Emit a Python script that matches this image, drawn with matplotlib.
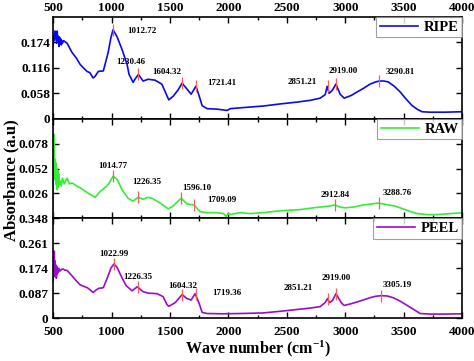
import numpy as np
import matplotlib
matplotlib.use("Agg")
from matplotlib import pyplot as plt
from matplotlib.ticker import MultipleLocator

plt.rcParams["font.family"] = ["Liberation Serif", "DejaVu Serif"]
plt.rcParams["font.weight"] = "bold"
plt.rcParams["mathtext.fontset"] = "custom"
plt.rcParams["mathtext.rm"] = "Liberation Serif:bold"
plt.rcParams["mathtext.it"] = "Liberation Serif:bold"
plt.rcParams["mathtext.bf"] = "Liberation Serif:bold"
plt.rcParams["mathtext.default"] = "rm"

# ---- spectra (wavenumber, absorbance) ----
ripe_wn = [500, 505, 510, 515, 520, 525, 530, 535, 540, 545, 550, 555, 560, 565, 570, 575,
           580, 590, 600, 620, 662, 700, 731, 760, 790, 815, 842, 860, 887, 930, 971, 995,
           1013, 1047, 1090, 1133, 1150, 1185, 1200, 1230, 1270, 1313, 1372, 1430, 1475,
           1490, 1530, 1570, 1604, 1645, 1681, 1722, 1750, 1775, 1818, 1900, 1990, 2015,
           2150, 2297, 2450, 2588, 2700, 2785, 2828, 2845, 2862, 2890, 2920, 2956, 2990,
           3050, 3100, 3160, 3212, 3260, 3290, 3330, 3367, 3420, 3470, 3520, 3572, 3620,
           3657, 3727, 3850, 4000]
ripe_val = [0.165, 0.19, 0.178, 0.2, 0.183, 0.196, 0.172, 0.2, 0.178, 0.188, 0.165, 0.186,
            0.17, 0.182, 0.168, 0.178, 0.172, 0.178, 0.176, 0.172, 0.151, 0.138, 0.124, 0.116,
            0.108, 0.105, 0.093, 0.097, 0.108, 0.109, 0.151, 0.185, 0.203, 0.187, 0.158,
            0.124, 0.101, 0.083, 0.09, 0.101, 0.086, 0.09, 0.088, 0.079, 0.052, 0.043, 0.052,
            0.066, 0.081, 0.068, 0.056, 0.074, 0.052, 0.03, 0.023, 0.022, 0.019, 0.023, 0.026,
            0.029, 0.034, 0.038, 0.042, 0.047, 0.055, 0.074, 0.058, 0.065, 0.079, 0.056, 0.047,
            0.053, 0.061, 0.07, 0.079, 0.084, 0.086, 0.086, 0.084, 0.074, 0.061, 0.045, 0.03,
            0.021, 0.016, 0.015, 0.015, 0.016]

raw_wn = [500, 503, 506, 510, 513, 516, 520, 524, 528, 532, 536, 540, 545, 550, 555, 560,
          570, 580, 595, 620, 640, 662, 700, 731, 780, 817, 860, 902, 962, 990, 1013, 1047,
          1090, 1142, 1185, 1228, 1270, 1310, 1347, 1416, 1485, 1527, 1560, 1596, 1647,
          1707, 1758, 1818, 1900, 1960, 1980, 2000, 2015, 2100, 2186, 2300, 2443, 2600,
          2725, 2870, 2913, 2950, 2998, 3080, 3152, 3220, 3281, 3330, 3420, 3495, 3560,
          3615, 3700, 3786, 3900, 4000]
raw_val = [0.002, 0.06, 0.088, 0.07, 0.045, 0.062, 0.04, 0.058, 0.035, 0.052, 0.03, 0.05,
           0.033, 0.046, 0.036, 0.039, 0.034, 0.042, 0.036, 0.042, 0.036, 0.037, 0.034, 0.032,
           0.028, 0.025, 0.022, 0.028, 0.034, 0.039, 0.044, 0.041, 0.03, 0.021, 0.018, 0.022,
           0.02, 0.022, 0.021, 0.016, 0.01, 0.013, 0.017, 0.021, 0.015, 0.014, 0.007, 0.006,
           0.006, 0.005, 0.002, 0.005, 0.004, 0.006, 0.005, 0.006, 0.008, 0.009, 0.011, 0.013,
           0.014, 0.012, 0.011, 0.012, 0.014, 0.015, 0.016, 0.015, 0.013, 0.01, 0.007, 0.005,
           0.004, 0.004, 0.005, 0.006]

peel_wn = [500, 503, 506, 510, 513, 516, 520, 524, 528, 532, 536, 540, 545, 550, 560, 570,
           585, 600, 620, 662, 700, 731, 760, 792, 815, 842, 865, 887, 930, 971, 995, 1020,
           1047, 1090, 1125, 1176, 1220, 1270, 1313, 1390, 1441, 1475, 1490, 1545, 1604,
           1645, 1681, 1715, 1750, 1775, 1818, 1950, 2100, 2297, 2450, 2588, 2700, 2785,
           2828, 2848, 2865, 2890, 2920, 2965, 2990, 3040, 3100, 3160, 3212, 3260, 3305,
           3360, 3410, 3470, 3530, 3590, 3640, 3730, 3850, 4000]
peel_val = [0.13, 0.2, 0.145, 0.234, 0.17, 0.2, 0.15, 0.186, 0.14, 0.18, 0.155, 0.175,
            0.16, 0.172, 0.165, 0.17, 0.172, 0.168, 0.167, 0.148, 0.13, 0.117, 0.112, 0.107,
            0.1, 0.09, 0.098, 0.104, 0.107, 0.148, 0.175, 0.189, 0.178, 0.141, 0.114, 0.096,
            0.11, 0.093, 0.088, 0.086, 0.076, 0.048, 0.042, 0.055, 0.083, 0.069, 0.064, 0.086,
            0.052, 0.021, 0.017, 0.016, 0.017, 0.019, 0.025, 0.031, 0.036, 0.041, 0.055, 0.069,
            0.055, 0.062, 0.086, 0.055, 0.045, 0.05, 0.057, 0.065, 0.072, 0.077, 0.079, 0.078,
            0.072, 0.06, 0.045, 0.03, 0.017, 0.015, 0.015, 0.016]

# ---- peak labels ----
ripe_peaks = [1012.72, 1230.46, 1604.32, 1721.41, 2851.21, 2919.00, 3290.81]
ripe_peak_val = [0.203, 0.101, 0.081, 0.074, 0.074, 0.079, 0.086]
ripe_text_xy = [(1261, 0.199), (1167, 0.129), (1475, 0.106), (1946, 0.081),
                (2630, 0.083), (2982, 0.108), (3470, 0.106)]

raw_peaks = [1014.77, 1226.35, 1596.10, 1709.09, 2912.84, 3288.76]
raw_peak_val = [0.044, 0.022, 0.021, 0.014, 0.014, 0.016]
raw_text_xy = [(1014, 0.055), (1304, 0.038), (1732, 0.032), (1946, 0.019),
               (2913, 0.024), (3443, 0.027)]

peel_peaks = [1022.99, 1226.35, 1604.32, 1719.36, 2851.21, 2919.00, 3305.19]
peel_peak_val = [0.189, 0.110, 0.083, 0.086, 0.069, 0.086, 0.079]
peel_text_xy = [(1022, 0.224), (1228, 0.144), (1612, 0.113), (1988, 0.089),
                (2597, 0.107), (2920, 0.141), (3443, 0.117)]

panels = [
    ("RIPE", "#0a0aee", ripe_wn, ripe_val, ripe_peaks, ripe_peak_val, ripe_text_xy,
     0.232, [0, 0.058, 0.116, 0.174], ["0", "0.058", "0.116", "0.174"]),
    ("RAW", "#33ee33", raw_wn, raw_val, raw_peaks, raw_peak_val, raw_text_xy,
     0.104, [0.026, 0.052, 0.078], ["0.026", "0.052", "0.078"]),
    ("PEEL", "#9a0ccc", peel_wn, peel_val, peel_peaks, peel_peak_val, peel_text_xy,
     0.348, [0, 0.087, 0.174, 0.261, 0.348], ["0", "0.087", "0.174", "0.261", "0.348"]),
]

fig = plt.figure(figsize=(4.74, 3.61), dpi=100)
left, width = 0.112, 0.863
bottoms = [0.671, 0.395, 0.118]
heights = [0.282, 0.276, 0.277]

axes = []
for i, (name, color, wn, val, pk, pkv, txy, ytop, yt, ytl) in enumerate(panels):
    ax = fig.add_axes([left, bottoms[i], width, heights[i]])
    ax.plot(wn, val, color=color, lw=1.2, label=name)
    ax.plot(pk, pkv, ls="none", marker="|", ms=9, mew=0.9, color="#ff5a5a")
    for p, (tx, ty) in zip(pk, txy):
        ax.text(tx, ty, f"{p:.2f}", fontsize=6.5, fontweight="bold",
                ha="center", va="center")
    ax.set_xlim(500, 4000)
    ax.set_ylim(0, ytop)
    ax.set_yticks(yt)
    ax.set_yticklabels(ytl, fontsize=9.5, fontweight="bold")
    ax.xaxis.set_major_locator(MultipleLocator(500))
    ax.xaxis.set_minor_locator(MultipleLocator(250))
    ax.tick_params(which="both", direction="in", top=True, right=True, width=1)
    ax.tick_params(which="major", length=4)
    ax.tick_params(which="minor", length=2.5)
    for s in ax.spines.values():
        s.set_linewidth(1.2)
    leg = ax.legend(loc="upper right", borderaxespad=0, fancybox=False,
                    edgecolor="#888888", handlelength=2.6, handletextpad=0.4,
                    borderpad=0.25, prop={"size": 10.5, "weight": "bold"})
    leg.get_frame().set_linewidth(0.8)
    axes.append(ax)

axes[0].tick_params(labeltop=True, labelbottom=False, pad=2)
for lab in axes[0].get_xticklabels():
    lab.set_fontsize(9.5)
    lab.set_fontweight("bold")
axes[1].tick_params(labelbottom=False)
axes[2].tick_params(axis="x", pad=5.5)
for lab in axes[2].get_xticklabels():
    lab.set_fontsize(9.5)
    lab.set_fontweight("bold")

fig.text(0.545, 1 - 349 / 361, "Wave number (cm$^{-1}$)", fontsize=11.5, fontweight="bold",
         ha="center", va="center")
fig.text(0.025, 0.50, "Absorbance (a.u)", rotation=90, fontsize=12, fontweight="bold",
         ha="center", va="center")

fig.savefig("out.png", dpi=100)
